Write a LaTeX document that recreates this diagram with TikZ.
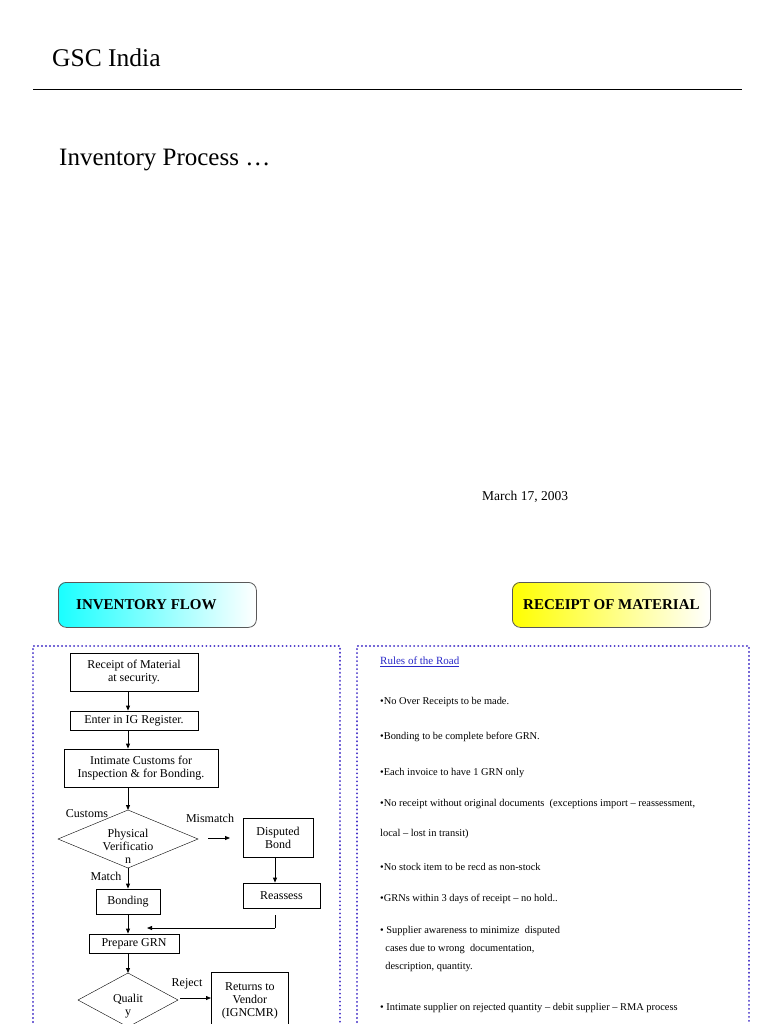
\documentclass[tikz,border=0pt]{standalone}
\usepackage{fontspec}
\setmainfont{Liberation Serif}
\usetikzlibrary{shapes.geometric,arrows.meta}
\definecolor{dotblue}{RGB}{70,50,200}
\definecolor{linkblue}{RGB}{40,40,200}
\begin{document}
\begin{tikzpicture}[x=1pt,y=-1pt,
  box/.style={draw,thick,inner sep=0pt,align=center,font=\fontsize{12}{13}\selectfont},
  lbl/.style={font=\fontsize{12}{13}\selectfont,inner sep=0pt},
  arr/.style={-{Triangle[length=5pt,width=4pt]},thick},
  rule/.style={anchor=west,inner sep=0pt,font=\fontsize{10.4}{16}\selectfont,align=left},
  title/.style={draw=gray!70!black,rounded corners=8pt,thick,font=\bfseries\fontsize{15}{16}\selectfont}]
\useasboundingbox (0,0) rectangle (768,1024);
\node[anchor=west,inner sep=0pt,font=\fontsize{25.5}{27}\selectfont] (gsc) at (52,58) {GSC India};
\draw[thick] (33,89) -- (742,89);
\node[anchor=west,inner sep=0pt,font=\fontsize{25}{27}\selectfont] (inv) at (59,160) {Inventory Process …};
\node[anchor=west,inner sep=0pt,font=\fontsize{13.5}{14}\selectfont] (date) at (482,497) {March 17, 2003};
% title boxes
\shade[left color=cyan!90!white,right color=white,rounded corners=8pt] (58,582) rectangle (256,627);
\node[title,minimum width=198pt,minimum height=45pt,anchor=north west] (tf) at (58,582) {\hspace*{-22pt}INVENTORY FLOW};
\shade[left color=yellow,right color=white,rounded corners=8pt] (512,582) rectangle (710,627);
\node[title,minimum width=198pt,minimum height=45pt,anchor=north west] (tr) at (512,582) {RECEIPT OF MATERIAL};
% dotted panels
\draw[dotblue,line width=2.2pt,dash pattern=on 0.01pt off 4pt,line cap=round] (33,1030) -- (33,646) -- (340,646) -- (340,1030);
\draw[dotblue,line width=2.2pt,dash pattern=on 0.01pt off 4pt,line cap=round] (357,1030) -- (357,646) -- (749,646) -- (749,1030);
% flow
\node[box,minimum width=128pt,minimum height=38pt] (rm) at (134,672) {Receipt of Material\\at security.};
\node[box,minimum width=128pt,minimum height=19pt] (ig) at (134,720.5) {Enter in IG Register.};
\node[box,minimum width=154pt,minimum height=38pt] (ic) at (141,768) {Intimate Customs for\\Inspection \& for Bonding.};
\draw[thin] (128,810) -- (198,839) -- (128,868) -- (58,839) -- cycle;
\node[lbl,align=center] (pv) at (128,846) {Physical\\Verificatio\\n};
\coordinate (pvt) at (128,810); \coordinate (pvb) at (128,868); \coordinate (pvr) at (205,838);
\node[lbl] (cus) at (87,814) {Customs};
\node[lbl] (mm) at (210,818) {Mismatch};
\node[lbl] (mt) at (106,876) {Match};
\node[box,minimum width=70pt,minimum height=39pt] (db) at (278,837.5) {Disputed\\Bond};
\node[box,minimum width=77pt,minimum height=25pt] (ra) at (281.5,895.5) {Reassess};
\node[box,minimum width=64pt,minimum height=25pt] (bo) at (128,901.5) {Bonding};
\node[box,minimum width=90pt,minimum height=19pt] (pg) at (134,943.5) {Prepare GRN};
\draw[thin] (128,973) -- (178,1000) -- (128,1027) -- (78,1000) -- cycle;
\node[lbl,align=center] (ql) at (128,1006) {Qualit\\y};
\coordinate (qt) at (128,973); \coordinate (qr) at (180,998);
\node[lbl] (rj) at (187,984) {Reject};
\node[box,minimum width=77pt,minimum height=56pt,anchor=north west] (rv) at (211,972) {Returns to\\Vendor\\(IGNCMR)};
\draw[arr] (rm.south -| 128,0) -- (ig.north -| 128,0);
\draw[arr] (ig.south -| 128,0) -- (ic.north -| 128,0);
\draw[arr] (ic.south -| 128,0) -- (pvt);
\draw[arr] (pvb) -- (bo.north);
\coordinate (mma) at (208,838);
\draw[arr] (mma) -- (pvr -| 230,0);
\draw[arr] (db.south -| 275,0) -- (ra.north -| 275,0);
\coordinate (rab) at (275,915); \coordinate (rc) at (275,928); \coordinate (re) at (147,928);
\draw[thick] (rab) -- (rc);
\draw[arr] (rc) -- (re);
\draw[arr] (bo.south) -- (pg.north -| 128,0);
\draw[arr] (pg.south -| 128,0) -- (qt);
\draw[arr] (qr) -- (rv.west |- qr);
% rules
\node[rule,text=linkblue,font=\fontsize{11}{16}\selectfont] (rr) at (380,662) {\underline{Rules of the Road}};
\node[rule] (r1) at (380,702) {•No Over Receipts to be made.};
\node[rule] (r2) at (380,737) {•Bonding to be complete before GRN.};
\node[rule] (r3) at (380,773) {•Each invoice to have 1 GRN only};
\node[rule] (r4) at (380,804) {•No receipt without original documents\ \ (exceptions import – reassessment,};
\node[rule] (r5) at (380,834) {local – lost in transit)};
\node[rule] (r6) at (380,867) {•No stock item to be recd as non-stock};
\node[rule] (r7) at (380,899) {•GRNs within 3 days of receipt – no hold..};
\node[rule,font=\fontsize{10.4}{18}\selectfont] (r8) at (380,949) {• Supplier awareness to minimize\ \ disputed\\\ \ cases due to wrong\ \ documentation,\\\ \ description, quantity.};
\node[rule] (r9) at (380,1008) {• Intimate supplier on rejected quantity – debit supplier – RMA process};
\end{tikzpicture}
\end{document}
